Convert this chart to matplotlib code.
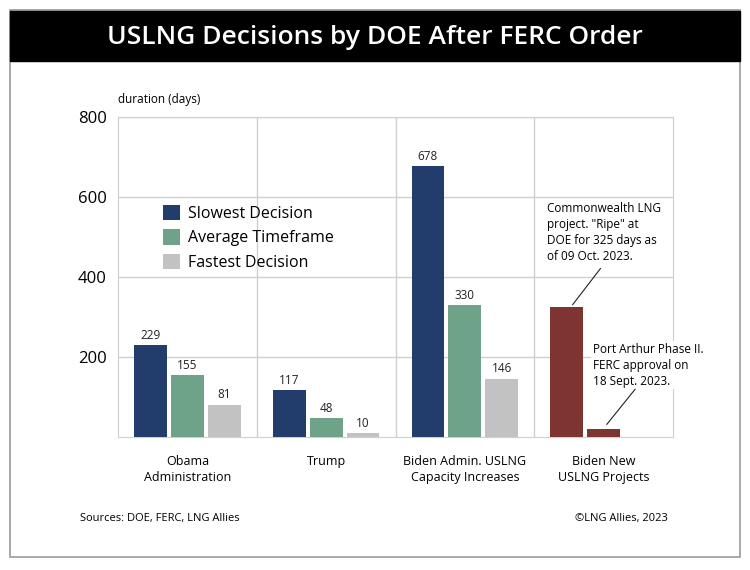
import matplotlib
matplotlib.use('Agg')
import numpy as np
import matplotlib.pyplot as plt
from matplotlib.patches import Rectangle, Patch

plt.rcParams['font.family'] = ['Open Sans', 'DejaVu Sans']

# data
groups = ['Obama\nAdministration', 'Trump', 'Biden Admin. USLNG\nCapacity Increases', 'Biden New\nUSLNG Projects']
series = ['Slowest Decision', 'Average Timeframe', 'Fastest Decision']
slowest = [229, 117, 678]
average = [155, 48, 330]
fastest = [81, 10, 146]
new_projects = [325, 20]
y_ticks = [200, 400, 600, 800]

blue = '#223c6c'
green = '#6ea38a'
grey = '#c2c2c2'
red = '#7e3531'
gridc = '#cfcfcf'

fig = plt.figure(figsize=(7.5, 5.7), dpi=100)

# outer frame and title band
fig.patches.append(Rectangle((10/750, 1-557/570), 730/750, 547/570, transform=fig.transFigure,
                             facecolor='none', edgecolor='#9a9a9a', lw=1.2, zorder=-1))
fig.patches.append(Rectangle((10/750, 1-61/570), 730/750, 50/570, transform=fig.transFigure,
                             facecolor='black', edgecolor='black', zorder=-1))
fig.text(0.5, 1-37/570, 'USLNG Decisions by DOE After FERC Order', color='white',
         fontsize=19, fontweight='semibold', ha='center', va='center')

ax = fig.add_axes([118/750, 1-437/570, (673-118)/750, (437-117)/570])
ax.set_zorder(2)
ax.set_xlim(-0.5, 3.5)
ax.set_ylim(0, 800)

w = 0.237
off = 0.266
x = np.arange(3)
for i, (vals, c) in enumerate(zip([slowest, average, fastest], [blue, green, grey])):
    ax.bar(x + (i - 1) * off, vals, w, color=c, zorder=3)
    for xi, v in zip(x + (i - 1) * off, vals):
        ax.text(xi, v + 8, str(v), ha='center', va='bottom', fontsize=8.5, color='#222222')

xr = np.array([3 - off, 3])
ax.bar(xr, new_projects, w, color=red, zorder=3)

# grid
for yv in y_ticks:
    ax.axhline(yv, color=gridc, lw=1, zorder=1)
for xv in [0.5, 1.5, 2.5]:
    ax.axvline(xv, color=gridc, lw=1, zorder=1)
for s in ax.spines.values():
    s.set_color(gridc)

ax.set_yticks(y_ticks)
ax.set_yticklabels([str(t) for t in y_ticks], fontsize=12)
ax.set_xticks(range(4))
ax.set_xticklabels(groups, fontsize=9, linespacing=1.3)
ax.tick_params(length=0)
ax.tick_params(axis='x', pad=13)
ax.tick_params(axis='y', pad=8)
ax.text(0, 1.035, 'duration (days)', transform=ax.transAxes, fontsize=8.5, ha='left', va='bottom')

handles = [Patch(facecolor=c) for c in [blue, green, grey]]
ax.legend(handles, series, loc='upper left', bbox_to_anchor=(0.055, 0.77), frameon=False,
          fontsize=11.5, handlelength=1.1, handleheight=1.1, handletextpad=0.5, labelspacing=0.45)

# annotations
ax.text(2.59, 588, 'Commonwealth LNG\nproject. "Ripe" at\nDOE for 325 days as\nof 09 Oct. 2023.',
        fontsize=8.5, va='top', ha='left', linespacing=1.3,
        bbox=dict(facecolor='white', edgecolor='none', pad=1), zorder=5)
ax.annotate('', xy=(3 - off + 0.03, new_projects[0]), xytext=(2.99, 427),
            arrowprops=dict(arrowstyle='-', color='#222222', lw=0.8), zorder=5)
ax.text(2.92, 236, 'Port Arthur Phase II.\nFERC approval on\n18 Sept. 2023.',
        fontsize=8.5, va='top', ha='left', linespacing=1.3,
        bbox=dict(facecolor='white', edgecolor='none', pad=1), zorder=5, clip_on=False)
ax.annotate('', xy=(3.01, new_projects[1] + 6), xytext=(3.24, 125),
            arrowprops=dict(arrowstyle='-', color='#222222', lw=0.8), zorder=5)

fig.text(80/750, 1-518/570, 'Sources: DOE, FERC, LNG Allies', fontsize=8, va='center', ha='left')
fig.text(668/750, 1-518/570, '\u00a9LNG Allies, 2023', fontsize=8, va='center', ha='right')

fig.savefig('out.png', dpi=100)
